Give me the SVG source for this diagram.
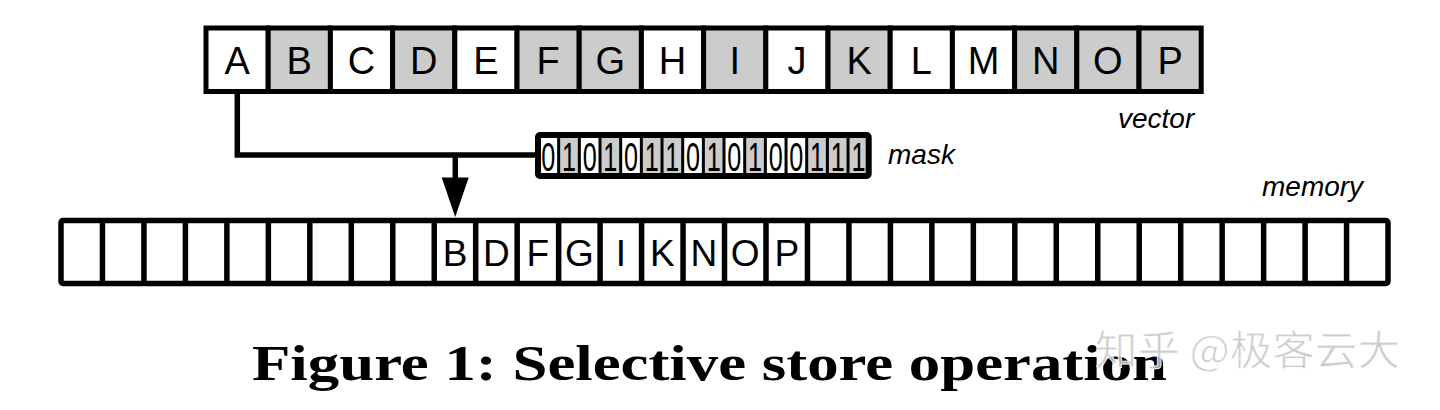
<svg xmlns="http://www.w3.org/2000/svg" width="1440" height="410" viewBox="0 0 1440 410">
<style>
.cell{stroke:#000;stroke-width:5}
.g{fill:#cccccc}
.w{fill:#ffffff}
.big{font-family:"Liberation Sans",Arial,sans-serif;font-size:38px;fill:#000;text-anchor:middle}
.mem{font-family:"Liberation Sans",Arial,sans-serif;font-size:37px;fill:#000;text-anchor:middle}
.dig{font-family:"Liberation Sans",Arial,sans-serif;font-size:40px;fill:#000;text-anchor:middle}
.lbl{font-family:"Liberation Sans",Arial,sans-serif;font-size:28px;font-style:italic;fill:#000}
.sep{stroke:#000;stroke-width:5.5}
.msep{stroke:#000;stroke-width:3}
.conn{fill:none;stroke:#000;stroke-width:5.5}
</style>
<rect width="1440" height="410" fill="#ffffff"/>
<g id="vector">
<rect class="cell w" x="206" y="28" width="62.2" height="63.5"/>
<rect class="cell g" x="268.2" y="28" width="62.2" height="63.5"/>
<rect class="cell w" x="330.4" y="28" width="62.2" height="63.5"/>
<rect class="cell g" x="392.6" y="28" width="62.2" height="63.5"/>
<rect class="cell w" x="454.8" y="28" width="62.2" height="63.5"/>
<rect class="cell g" x="517" y="28" width="62.2" height="63.5"/>
<rect class="cell g" x="579.2" y="28" width="62.2" height="63.5"/>
<rect class="cell w" x="641.4" y="28" width="62.2" height="63.5"/>
<rect class="cell g" x="703.6" y="28" width="62.2" height="63.5"/>
<rect class="cell w" x="765.8" y="28" width="62.2" height="63.5"/>
<rect class="cell g" x="828" y="28" width="62.2" height="63.5"/>
<rect class="cell w" x="890.2" y="28" width="62.2" height="63.5"/>
<rect class="cell w" x="952.4" y="28" width="62.2" height="63.5"/>
<rect class="cell g" x="1014.6" y="28" width="62.2" height="63.5"/>
<rect class="cell g" x="1076.8" y="28" width="62.2" height="63.5"/>
<rect class="cell g" x="1139" y="28" width="62.2" height="63.5"/>
<text class="big" x="237.1" y="74">A</text>
<text class="big" x="299.3" y="74">B</text>
<text class="big" x="361.5" y="74">C</text>
<text class="big" x="423.7" y="74">D</text>
<text class="big" x="485.9" y="74">E</text>
<text class="big" x="548.1" y="74">F</text>
<text class="big" x="610.3" y="74">G</text>
<text class="big" x="672.5" y="74">H</text>
<text class="big" x="734.7" y="74">I</text>
<text class="big" x="796.9" y="74">J</text>
<text class="big" x="859.1" y="74">K</text>
<text class="big" x="921.3" y="74">L</text>
<text class="big" x="983.5" y="74">M</text>
<text class="big" x="1045.7" y="74">N</text>
<text class="big" x="1107.9" y="74">O</text>
<text class="big" x="1170.1" y="74">P</text>
<text class="lbl" x="1118" y="128">vector</text>
</g>
<g id="mask">
<rect class="w" x="538" y="135" width="20.67" height="41"/>
<rect class="g" x="558.67" y="135" width="20.67" height="41"/>
<rect class="w" x="579.34" y="135" width="20.67" height="41"/>
<rect class="g" x="600.01" y="135" width="20.67" height="41"/>
<rect class="w" x="620.68" y="135" width="20.67" height="41"/>
<rect class="g" x="641.35" y="135" width="20.67" height="41"/>
<rect class="g" x="662.02" y="135" width="20.67" height="41"/>
<rect class="w" x="682.69" y="135" width="20.67" height="41"/>
<rect class="g" x="703.36" y="135" width="20.67" height="41"/>
<rect class="w" x="724.03" y="135" width="20.67" height="41"/>
<rect class="g" x="744.7" y="135" width="20.67" height="41"/>
<rect class="w" x="765.37" y="135" width="20.67" height="41"/>
<rect class="w" x="786.04" y="135" width="20.67" height="41"/>
<rect class="g" x="806.71" y="135" width="20.67" height="41"/>
<rect class="g" x="827.38" y="135" width="20.67" height="41"/>
<rect class="g" x="848.05" y="135" width="20.67" height="41"/>
<path class="msep" d="M558.67 135V176M579.34 135V176M600.01 135V176M620.68 135V176M641.35 135V176M662.02 135V176M682.69 135V176M703.36 135V176M724.03 135V176M744.7 135V176M765.37 135V176M786.04 135V176M806.71 135V176M827.38 135V176M848.05 135V176"/>
<rect x="538" y="135" width="330.7" height="41" rx="2" fill="none" stroke="#000" stroke-width="6"/>
<g class="dig">
<text x="548.33" y="171" textLength="14" lengthAdjust="spacingAndGlyphs">0</text>
<text x="569" y="171" textLength="14" lengthAdjust="spacingAndGlyphs">1</text>
<text x="589.67" y="171" textLength="14" lengthAdjust="spacingAndGlyphs">0</text>
<text x="610.34" y="171" textLength="14" lengthAdjust="spacingAndGlyphs">1</text>
<text x="631.01" y="171" textLength="14" lengthAdjust="spacingAndGlyphs">0</text>
<text x="651.68" y="171" textLength="14" lengthAdjust="spacingAndGlyphs">1</text>
<text x="672.35" y="171" textLength="14" lengthAdjust="spacingAndGlyphs">1</text>
<text x="693.02" y="171" textLength="14" lengthAdjust="spacingAndGlyphs">0</text>
<text x="713.69" y="171" textLength="14" lengthAdjust="spacingAndGlyphs">1</text>
<text x="734.36" y="171" textLength="14" lengthAdjust="spacingAndGlyphs">0</text>
<text x="755.03" y="171" textLength="14" lengthAdjust="spacingAndGlyphs">1</text>
<text x="775.7" y="171" textLength="14" lengthAdjust="spacingAndGlyphs">0</text>
<text x="796.37" y="171" textLength="14" lengthAdjust="spacingAndGlyphs">0</text>
<text x="817.04" y="171" textLength="14" lengthAdjust="spacingAndGlyphs">1</text>
<text x="837.71" y="171" textLength="14" lengthAdjust="spacingAndGlyphs">1</text>
<text x="858.38" y="171" textLength="14" lengthAdjust="spacingAndGlyphs">1</text>
</g>
<text class="lbl" x="888" y="164">mask</text>
</g>
<g id="memory">
<rect x="61" y="220.5" width="1327" height="63" rx="2" fill="#fff" stroke="#000" stroke-width="5.5"/>
<path class="sep" d="M102.47 220.5V283.5M143.94 220.5V283.5M185.41 220.5V283.5M226.88 220.5V283.5M268.35 220.5V283.5M309.82 220.5V283.5M351.29 220.5V283.5M392.76 220.5V283.5M434.23 220.5V283.5M475.7 220.5V283.5M517.17 220.5V283.5M558.64 220.5V283.5M600.11 220.5V283.5M641.58 220.5V283.5M683.05 220.5V283.5M724.52 220.5V283.5M765.99 220.5V283.5M807.46 220.5V283.5M848.93 220.5V283.5M890.4 220.5V283.5M931.87 220.5V283.5M973.34 220.5V283.5M1014.81 220.5V283.5M1056.28 220.5V283.5M1097.75 220.5V283.5M1139.22 220.5V283.5M1180.69 220.5V283.5M1222.16 220.5V283.5M1263.63 220.5V283.5M1305.1 220.5V283.5M1346.57 220.5V283.5"/>
<text class="mem" x="454.97" y="266">B</text>
<text class="mem" x="496.44" y="266">D</text>
<text class="mem" x="537.91" y="266">F</text>
<text class="mem" x="579.38" y="266">G</text>
<text class="mem" x="620.85" y="266">I</text>
<text class="mem" x="662.32" y="266">K</text>
<text class="mem" x="703.79" y="266">N</text>
<text class="mem" x="745.26" y="266">O</text>
<text class="mem" x="786.73" y="266">P</text>
<text class="lbl" x="1262" y="196">memory</text>
</g>
<g id="connectors">
<path class="conn" d="M237.3 93V155H536"/>
<path class="conn" d="M455.3 155V179"/>
<polygon points="441.7,177.5 468.7,177.5 455.2,217" fill="#000"/>
</g>
<g id="caption">
<text x="252" y="380" font-family="'Liberation Serif','Times New Roman',serif" font-weight="bold" font-size="50" textLength="915" lengthAdjust="spacingAndGlyphs" fill="#000">Figure 1: Selective store operation</text>
</g>
<g id="watermark">
<text x="1095" y="365" font-family="'Noto Sans CJK SC','Noto Sans',sans-serif" font-size="41" textLength="305" lengthAdjust="spacingAndGlyphs" fill="#c4c4c4" fill-opacity="0.85" stroke="#ffffff" stroke-width="0.8">知乎 @极客云大</text>
</g>
</svg>
